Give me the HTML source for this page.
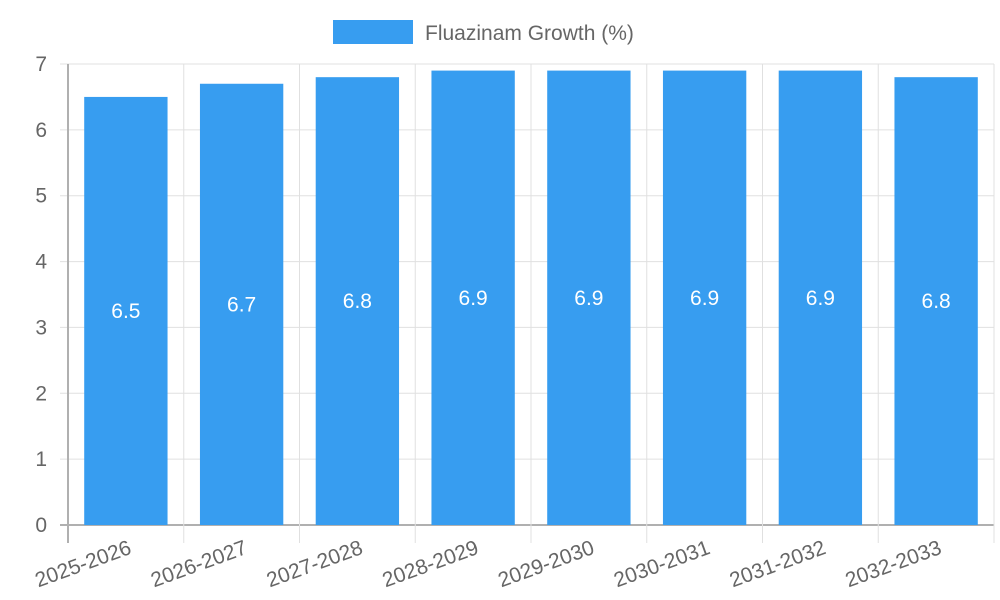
<!DOCTYPE html>
<html><head><meta charset="utf-8"><style>
html,body{margin:0;padding:0;background:#fff;}
svg{display:block;font-family:"Liberation Sans",sans-serif;}
</style></head><body>
<svg id="chart" width="1000" height="600">
<g>
<rect x="333" y="20" width="80" height="24" fill="#379df0"></rect>
<text x="425" y="40" font-size="21" fill="#666">Fluazinam Growth (%)</text>
</g>
<g id="grid"></g>
<g id="bars"></g>
<g id="axes"></g>
</svg>
<script>
const categories=["2025-2026","2026-2027","2027-2028","2028-2029","2029-2030","2030-2031","2031-2032","2032-2033"];
const values=[6.5,6.7,6.8,6.9,6.9,6.9,6.9,6.8];
const yTicks=[0,1,2,3,4,5,6,7];
const NS="http://www.w3.org/2000/svg";
const L=68,R=994,T=64,B=525,yMax=7;
const bw=(R-L)/categories.length;
const y=v=>B-(v/yMax)*(B-T);
const x=i=>L+bw*i;
function mk(tag,attrs,parent,txt){const e=document.createElementNS(NS,tag);for(const k in attrs)e.setAttribute(k,attrs[k]);if(txt!==undefined)e.textContent=txt;parent.appendChild(e);return e;}
const grid=document.getElementById('grid'),bars=document.getElementById('bars'),axes=document.getElementById('axes');
yTicks.forEach(t=>{
  const g=mk('line',{x1:60,x2:R,y1:y(t),y2:y(t),stroke:t===0?'#b0b0b0':'#e0e0e0','stroke-width':t===0?2:1},grid);
  
  
  const lb=mk('text',{x:47,y:y(t)+7,'text-anchor':'end','font-size':21,fill:'#666'},axes,String(t));
  
  
});
for(let i=0;i<=categories.length;i++){
  const g=mk('line',{x1:x(i),x2:x(i),y1:T,y2:B+18,stroke:i===0?'#b0b0b0':'#e0e0e0','stroke-width':i===0?2:1},grid);
  
  
}
categories.forEach((c,i)=>{
  const cx=x(i)+bw/2,w=bw*0.72;
  const r=mk('rect',{x:cx-w/2,y:y(values[i]),width:w,height:B-y(values[i]),fill:'#379df0'},bars);
  
  
  const v=mk('text',{x:cx,y:(y(values[i])+B)/2+7,'text-anchor':'middle','font-size':21,fill:'#fff'},bars,String(values[i]));
  
  
  const lx=cx+2,ly=540;
  const t=mk('text',{x:lx,y:ly,'text-anchor':'end','font-size':21,fill:'#666',transform:`rotate(-20 ${lx} ${ly})`,dy:14},axes,c);
  
  
});
</script>
</body></html>
